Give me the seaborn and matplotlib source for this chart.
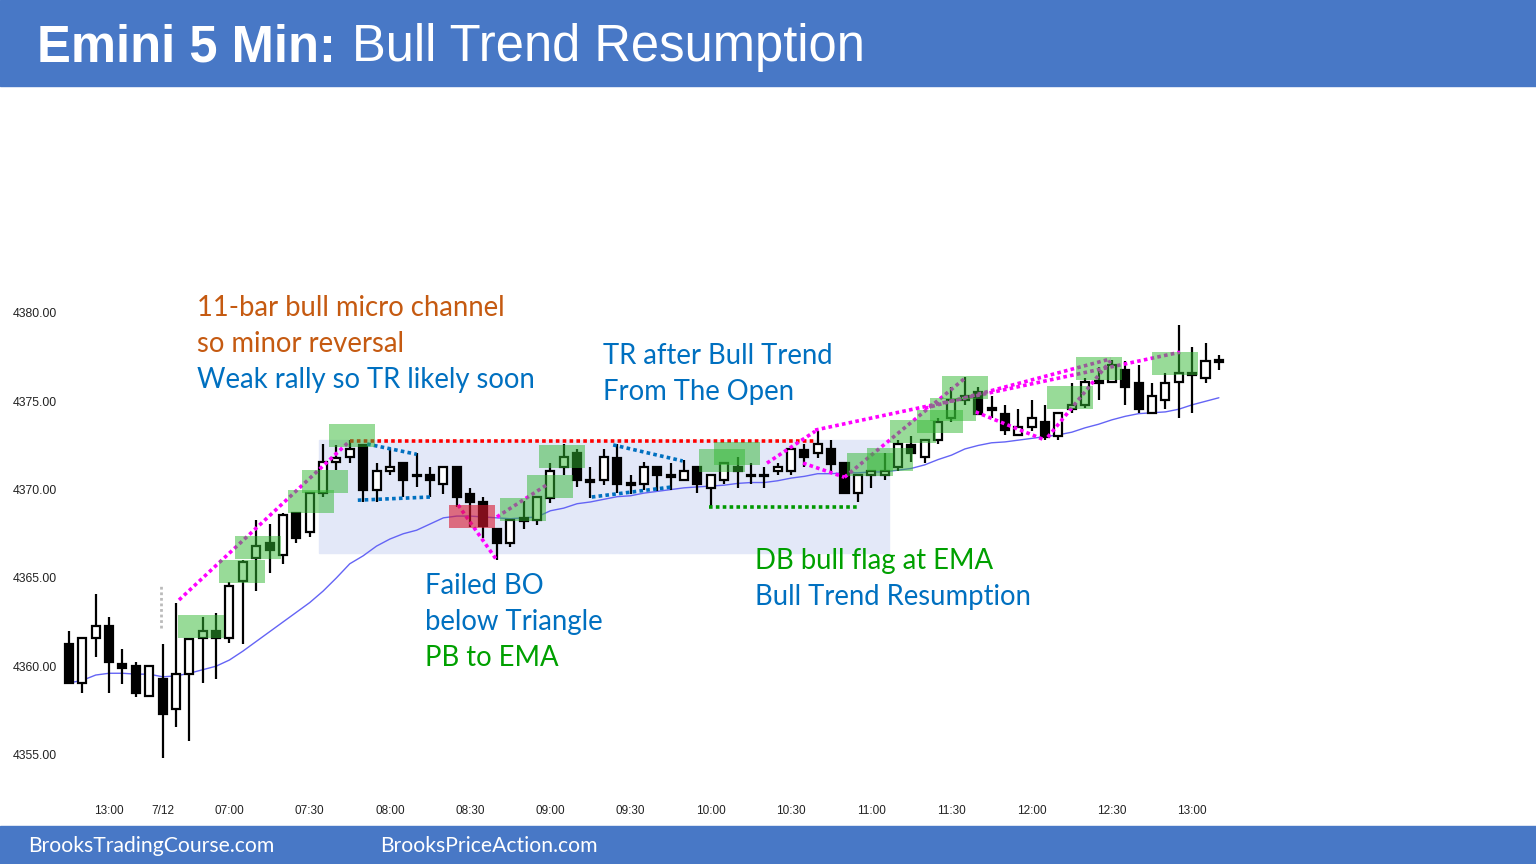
import numpy as np
import pandas as pd
import seaborn as sns
import matplotlib.pyplot as plt
from matplotlib.patches import Rectangle

# bar times: last bars of the prior session, then 7/12 session
prev_times = ["12:45", "12:50", "12:55", "13:00", "13:05", "13:10", "13:15"]
day_times = [f"{(6 * 60 + 35 + 5 * k) // 60:02d}:{(6 * 60 + 35 + 5 * k) % 60:02d}" for k in range(80)]
times = prev_times + day_times

opens = [4361.25, 4359.05, 4361.6, 4362.25, 4360.1, 4360.0, 4358.3,
         4359.3, 4357.6, 4359.55, 4361.6, 4362.0, 4361.6, 4364.8, 4366.1, 4366.95, 4366.3,
         4368.7, 4367.6, 4369.8, 4371.55, 4371.85, 4372.5, 4370.0, 4371.05, 4371.5, 4370.85,
         4370.8, 4370.3, 4371.3, 4369.75, 4369.3, 4367.75, 4367.0, 4368.4, 4368.3, 4369.5,
         4371.3, 4372.05, 4370.55, 4370.55, 4371.8, 4370.35, 4370.3, 4371.3, 4370.8, 4370.55,
         4371.3, 4370.1, 4370.55, 4371.3, 4370.85, 4370.85, 4371.05, 4371.05, 4372.25, 4372.05,
         4372.3, 4371.5, 4369.8, 4370.8, 4370.8, 4371.3, 4372.5, 4371.85, 4372.8, 4374.05,
         4375.05, 4375.5, 4374.6, 4374.3, 4373.1, 4373.55, 4373.8, 4373.05, 4374.55, 4374.8,
         4376.15, 4376.1, 4376.8, 4376.05, 4374.35, 4375.05, 4376.1, 4376.6, 4376.3, 4377.3]
highs = [4362.0, 4361.6, 4364.1, 4362.8, 4361.0, 4360.25, 4360.0,
         4361.25, 4363.6, 4361.55, 4362.8, 4363.0, 4364.75, 4366.0, 4368.3, 4368.05, 4368.7,
         4368.7, 4369.8, 4372.6, 4372.5, 4372.8, 4372.6, 4371.5, 4372.35, 4371.5, 4372.05,
         4371.3, 4371.3, 4371.3, 4370.1, 4369.6, 4367.75, 4368.3, 4369.35, 4369.6, 4371.5,
         4372.6, 4372.3, 4371.3, 4372.3, 4372.6, 4370.8, 4371.55, 4371.3, 4371.5, 4371.7,
         4371.3, 4370.8, 4371.5, 4371.85, 4371.5, 4371.3, 4371.5, 4372.3, 4372.6, 4373.3,
         4372.8, 4371.5, 4370.8, 4371.05, 4372.05, 4372.8, 4373.05, 4372.8, 4374.05, 4375.8,
         4376.4, 4375.8, 4375.3, 4374.8, 4374.55, 4375.05, 4374.8, 4374.35, 4376.05, 4376.3,
         4376.95, 4377.35, 4377.3, 4377.05, 4376.05, 4376.6, 4379.3, 4378.05, 4378.3, 4377.6]
lows = [4359.0, 4358.5, 4360.5, 4358.5, 4359.0, 4358.25, 4358.3,
        4354.8, 4356.55, 4355.75, 4359.05, 4359.3, 4361.3, 4361.25, 4364.25, 4365.3, 4365.8,
        4367.0, 4367.3, 4369.6, 4371.1, 4371.5, 4369.3, 4369.3, 4370.8, 4369.6, 4370.15,
        4369.6, 4369.75, 4369.0, 4367.9, 4367.25, 4366.0, 4366.75, 4367.75, 4368.0, 4369.25,
        4370.8, 4370.15, 4369.5, 4370.25, 4369.8, 4369.75, 4370.0, 4369.9, 4370.0, 4370.55,
        4369.8, 4369.05, 4370.3, 4370.1, 4370.3, 4370.1, 4370.8, 4370.8, 4371.3, 4371.8,
        4371.0, 4369.8, 4369.3, 4370.1, 4370.55, 4371.05, 4371.55, 4371.5, 4372.6, 4373.8,
        4374.8, 4374.3, 4374.05, 4373.1, 4373.1, 4373.3, 4372.8, 4372.8, 4374.35, 4374.6,
        4375.05, 4376.1, 4374.8, 4374.35, 4374.35, 4374.55, 4374.05, 4374.35, 4376.05, 4376.8]
closes = [4359.05, 4361.6, 4362.3, 4360.25, 4359.9, 4358.5, 4360.0,
          4357.3, 4359.55, 4361.55, 4362.0, 4361.6, 4364.55, 4365.9, 4366.8, 4366.6, 4368.55,
          4367.25, 4369.8, 4371.55, 4371.8, 4372.3, 4370.0, 4371.05, 4371.3, 4370.55, 4370.75,
          4370.55, 4371.3, 4369.6, 4369.3, 4367.95, 4367.0, 4368.3, 4368.2, 4369.6, 4371.05,
          4371.85, 4370.55, 4370.45, 4371.85, 4370.3, 4370.25, 4371.3, 4370.8, 4370.7, 4371.05,
          4370.3, 4370.8, 4371.5, 4371.05, 4370.75, 4370.75, 4371.3, 4372.3, 4371.85, 4372.6,
          4371.45, 4369.8, 4370.8, 4371.05, 4371.05, 4372.6, 4372.05, 4372.8, 4373.8, 4375.05,
          4375.3, 4374.3, 4374.5, 4373.4, 4373.55, 4374.05, 4373.0, 4374.35, 4374.8, 4376.1,
          4376.05, 4377.05, 4375.8, 4374.55, 4375.3, 4376.05, 4376.6, 4376.5, 4377.3, 4377.25]
ema = [4359.05, 4359.2, 4359.5, 4359.6, 4359.6, 4359.55, 4359.55,
       4359.4, 4359.45, 4359.6, 4359.8, 4360.0, 4360.35, 4360.85, 4361.4, 4361.95, 4362.5,
       4363.05, 4363.6, 4364.25, 4365.0, 4365.8, 4366.25, 4366.8, 4367.2, 4367.5, 4367.7,
       4368.05, 4368.4, 4368.5, 4368.5, 4368.45, 4368.4, 4368.35, 4368.4, 4368.45, 4368.8,
       4368.95, 4369.2, 4369.3, 4369.45, 4369.6, 4369.65, 4369.8, 4369.9, 4370.0, 4370.1,
       4370.15, 4370.2, 4370.25, 4370.35, 4370.4, 4370.4, 4370.5, 4370.65, 4370.75, 4370.9,
       4370.9, 4370.95, 4370.95, 4371.0, 4371.0, 4371.1, 4371.2, 4371.4, 4371.7, 4371.95,
       4372.3, 4372.5, 4372.65, 4372.7, 4372.8, 4372.9, 4373.0, 4373.1, 4373.25, 4373.5,
       4373.7, 4373.95, 4374.15, 4374.3, 4374.35, 4374.4, 4374.55, 4374.8, 4375.0, 4375.2]

# highlight boxes: (left bar, bottom price)
green_boxes = [(8.15, 4361.6), (11.22, 4364.7), (12.42, 4366.07), (16.38, 4368.67),
               (17.43, 4369.8), (19.45, 4372.41), (32.24, 4368.22), (34.26, 4369.52),
               (35.15, 4371.22), (47.12, 4371.0), (48.24, 4371.4), (58.19, 4370.77),
               (59.69, 4371.05), (61.41, 4372.64), (63.43, 4373.2), (64.4, 4373.88),
               (65.3, 4375.13), (73.15, 4374.56), (75.32, 4376.2), (81.0, 4376.49)]
red_boxes = [(28.42, 4367.83)]
trading_range = (18.7, 61.33, 4366.4, 4372.8)

# dotted lines: (x0, y0, x1, y1, colour)
magenta = "#FF00FF"
dotted_lines = [
    (8.23, 4363.75, 21.0, 4372.75, magenta),
    (21.0, 4372.75, 55.8, 4372.75, "#FF0000"),
    (29.1, 4369.13, 32.0, 4366.0, magenta),
    (32.0, 4368.45, 35.8, 4370.3, magenta),
    (22.3, 4372.58, 26.0, 4372.0, "#0070C0"),
    (21.6, 4369.4, 27.0, 4369.58, "#0070C0"),
    (40.7, 4372.53, 45.9, 4371.62, "#0070C0"),
    (39.1, 4369.58, 45.1, 4370.15, "#0070C0"),
    (47.9, 4369.0, 59.0, 4369.0, "#009900"),
    (52.2, 4371.5, 55.8, 4373.3, magenta),
    (54.9, 4371.5, 58.0, 4370.7, magenta),
    (58.0, 4370.7, 67.0, 4376.3, magenta),
    (55.8, 4373.37, 83.1, 4377.78, magenta),
    (64.0, 4374.6, 77.9, 4377.4, magenta),
    (67.8, 4374.4, 73.0, 4372.8, magenta),
    (73.2, 4372.97, 77.9, 4377.3, magenta),
]

orange, blue, green = "#C55A11", "#0070C0", "#00A000"
notes = [
    (9.57, 4380.28, "11-bar bull micro channel", orange),
    (9.57, 4378.24, "so minor reversal", orange),
    (9.57, 4376.2, "Weak rally so TR likely soon", blue),
    (39.94, 4377.57, "TR after Bull Trend", blue),
    (39.94, 4375.53, "From The Open", blue),
    (26.6, 4364.54, "Failed BO", blue),
    (26.6, 4362.5, "below Triangle", blue),
    (26.6, 4360.46, "PB to EMA", green),
    (51.3, 4365.96, "DB bull flag at EMA", green),
    (51.3, 4363.92, "Bull Trend Resumption", blue),
]

df = pd.DataFrame({"bar": np.arange(len(times)), "time": times, "open": opens,
                   "high": highs, "low": lows, "close": closes, "ema": ema})

sns.set_style("white")
plt.rcParams["font.family"] = ["Liberation Sans", "DejaVu Sans"]

fig = plt.figure(figsize=(15.36, 8.64), dpi=100)
W, H = 1536, 864
ax = fig.add_axes([60 / W, (H - 790) / H, 1180 / W, 690 / H])
ax.set_xlim(-0.673, 87.58)
ax.set_ylim(4352.99, 4392.06)

# title and footer bands
band = "#4878C6"
fig.patches.append(Rectangle((0, 1 - 86 / H), 1, 86 / H, transform=fig.transFigure,
                             color=band, zorder=0))
fig.patches.append(Rectangle((0, 0), 1, 38 / H, transform=fig.transFigure,
                             color=band, zorder=0))
fig.text(37 / W, 1 - 42 / H, "Emini 5 Min:", color="white", fontsize=36.5,
         fontweight="bold", va="center_baseline", ha="left")
fig.text(352 / W, 1 - 42 / H, "Bull Trend Resumption", color="white", fontsize=36.5,
         va="center_baseline", ha="left")
fig.text(28 / W, 18 / H, "BrooksTradingCourse.com", color="white", fontsize=15.2,
         va="center", family=["Lato", "DejaVu Sans"])
fig.text(380 / W, 18 / H, "BrooksPriceAction.com", color="white", fontsize=15.2,
         va="center", family=["Lato", "DejaVu Sans"])

# trading range shading
x0, x1, y0, y1 = trading_range
ax.add_patch(Rectangle((x0, y0), x1 - x0, y1 - y0, color="#E3E8F8", zorder=0))

# EMA
sns.lineplot(data=df, x="bar", y="ema", ax=ax, color="#6464F5", linewidth=1.0, zorder=1)

# day separator
day_start = len(prev_times) - 0.15
ax.vlines(day_start, 4362.16, 4364.6, colors="#BBBBBB", linestyles=(0, (1, 1)),
          linewidth=2, zorder=1)

# candles
ax.vlines(df["bar"], df["low"], df["high"], colors="black", linewidth=1.6, zorder=2)
body_lo = np.minimum(df["open"], df["close"])
body_h = np.maximum(np.abs(df["close"] - df["open"]), 0.06)
fills = np.where(df["close"] < df["open"], "black", "white")
ax.bar(df["bar"], body_h, bottom=body_lo, width=0.6, color=fills,
       edgecolor="black", linewidth=1.6, zorder=3)

# dotted lines
for xa, ya, xb, yb, c in dotted_lines:
    ax.plot([xa, xb], [ya, yb], color=c, linewidth=2.6,
            linestyle=(0, (1, 0.9)), zorder=4)

# highlight boxes
bw, bh = 3.44, 1.3
for bx, by in green_boxes:
    ax.add_patch(Rectangle((bx, by), bw, bh, facecolor="#33B833", alpha=0.5,
                           linewidth=0, zorder=5))
for bx, by in red_boxes:
    ax.add_patch(Rectangle((bx, by), bw, bh, facecolor="#D81830", alpha=0.6,
                           linewidth=0, zorder=5))

# annotations
for tx, ty, s, c in notes:
    ax.text(tx, ty, s, color=c, fontsize=19.8, va="center", ha="left",
            family=["Lato", "DejaVu Sans"], zorder=6)

# axes ticks
tick_pos, tick_lab = [], []
for i, t in enumerate(times):
    if i == len(prev_times):
        tick_pos.append(i)
        tick_lab.append("7/12")
    elif t.endswith(":00") or t.endswith(":30"):
        tick_pos.append(i)
        tick_lab.append(t)
ax.set_xticks(tick_pos)
ax.set_xticklabels(tick_lab)
ax.set_yticks(np.arange(4355, 4381, 5))
ax.set_yticklabels([f"{v:.2f}" for v in np.arange(4355, 4381, 5)])
ax.tick_params(axis="x", length=0, pad=11, labelsize=8.5, labelcolor="#222222")
ax.tick_params(axis="y", length=0, pad=2, labelsize=8.8, labelcolor="#222222")
ax.set_xlabel("")
ax.set_ylabel("")
for sp in ax.spines.values():
    sp.set_visible(False)

fig.savefig("out.png", dpi=100)
